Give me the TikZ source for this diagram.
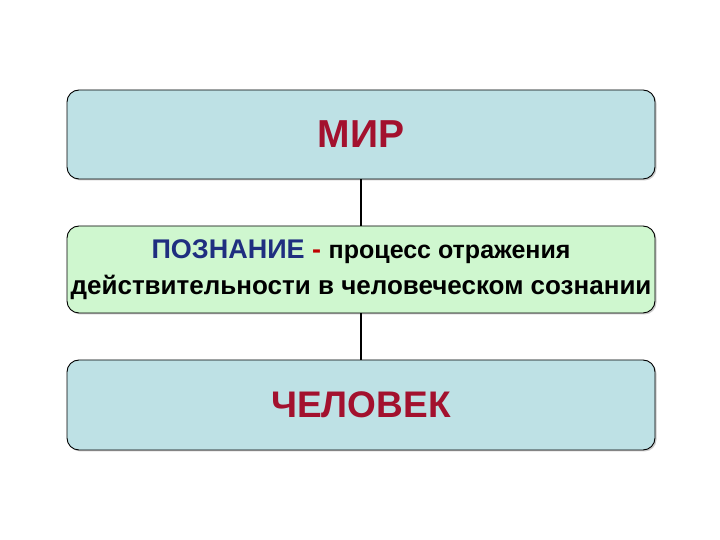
\documentclass[tikz,border=0pt]{standalone}
\usepackage{fontspec}
\setmainfont{Liberation Sans}
\definecolor{boxblue}{HTML}{BEE1E5}
\definecolor{boxgreen}{HTML}{CFF7CF}
\definecolor{darkred}{HTML}{A3112E}
\definecolor{darkblue}{HTML}{1F2E80}
\tikzset{
  card/.style={draw=black, line width=0.9pt, rounded corners=12pt,
    minimum width=588pt, inner sep=0pt, align=center, font=\bfseries},
  shadowed/.style={preaction={fill=black!20, transform canvas={xshift=1.5pt,yshift=-1.5pt}}},
  link/.style={line width=1.8pt, draw=black}
}
\begin{document}
\begin{tikzpicture}[x=1pt,y=1pt]
\useasboundingbox (0,0) rectangle (720,540);
\fill[white] (0,0) rectangle (720,540);
\node[card, shadowed, fill=boxblue, minimum height=89pt] (mir) at (361,405.5)
  {\fontsize{39}{44}\selectfont\color{darkred}МИР};
\node[card, shadowed, fill=boxgreen, minimum height=87pt] (pozn) at (361,270.5)
  {\fontsize{27}{30}\selectfont{\color{darkblue}ПОЗНАНИЕ} {\color{red!75!black}-} {\fontsize{25}{30}\selectfont процесс отражения}\\[10pt]
   \fontsize{26}{30}\selectfont действительности в человеческом сознании\rule[-4pt]{0pt}{0pt}};
\node[card, shadowed, fill=boxblue, minimum height=90pt] (chel) at (361,135)
  {\fontsize{37}{44}\selectfont\color{darkred}ЧЕЛОВЕК};
\draw[link] (mir.south) -- (pozn.north);
\draw[link] (pozn.south) -- (chel.north);
\end{tikzpicture}
\end{document}
